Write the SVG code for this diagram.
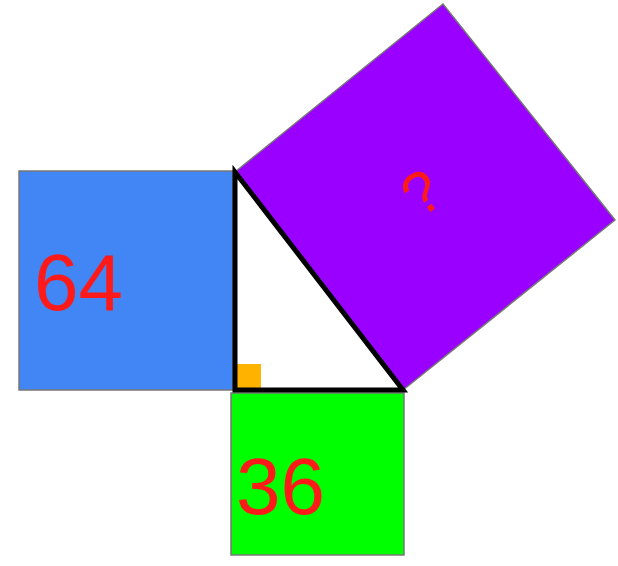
<svg xmlns="http://www.w3.org/2000/svg" width="618" height="566" viewBox="0 0 618 566">
<style>
.sq{stroke:#777;stroke-width:1.5}
.lbl{font-family:"Liberation Sans",Arial,sans-serif;fill:#ff1a1a}
</style>
<rect width="618" height="566" fill="#fff"/>
<g id="blue-square">
<rect class="sq" x="19" y="171" width="214" height="219" fill="#4285f4"/>
<text class="lbl" x="34" y="310" font-size="80">64</text>
</g>
<g id="green-square">
<rect class="sq" x="231" y="393" width="173" height="162" fill="#00ff00"/>
<text class="lbl" x="236" y="514" font-size="80">36</text>
</g>
<g id="purple-square">
<polygon class="sq" points="235,172 443,4 615,220 403,390" fill="#9900ff"/>
<text class="lbl" x="423" y="213" font-size="60" text-anchor="middle" transform="rotate(-35 423 195)">?</text>
</g>
<g id="right-angle-mark">
<rect x="237" y="364" width="24" height="24" fill="#ffb300"/>
</g>
<g id="triangle">
<polygon points="235,172 235,390 403,390" fill="none" stroke="#000" stroke-width="5" stroke-linejoin="miter"/>
</g>
</svg>
